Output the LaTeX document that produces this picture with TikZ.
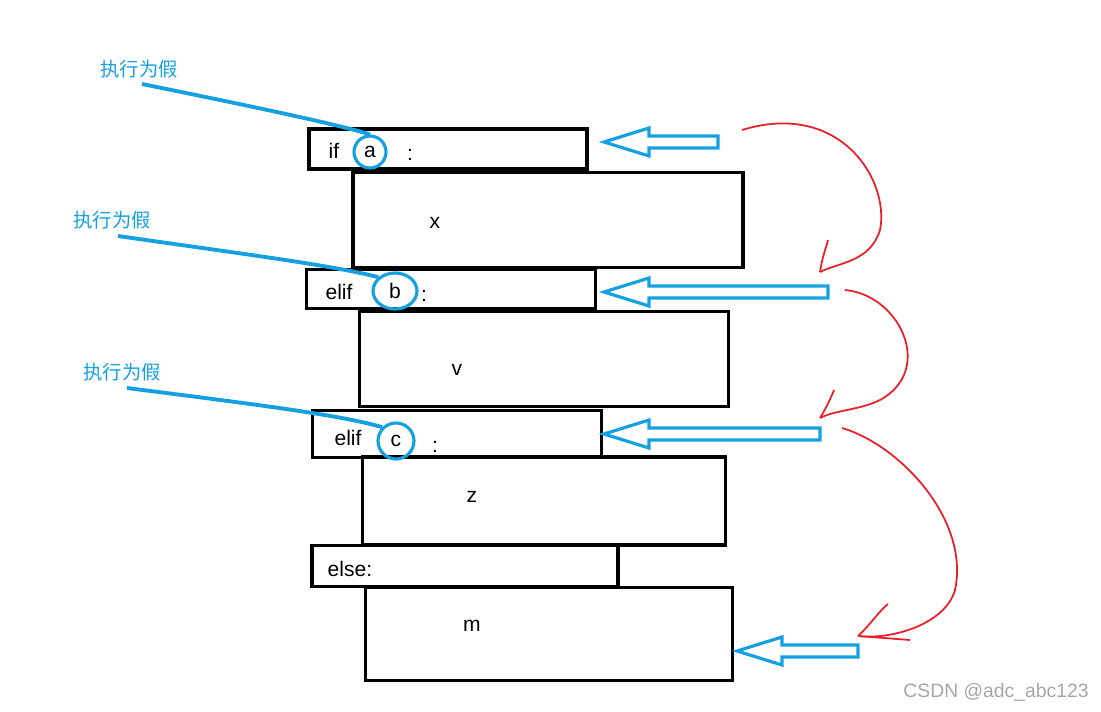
\documentclass[tikz,border=0pt]{standalone}
\usepackage{fontspec}
\setmainfont{Liberation Sans}
\newfontfamily\cjk{Noto Sans CJK SC}
\definecolor{pblue}{RGB}{20,160,225}
\definecolor{pred}{RGB}{235,30,40}
\tikzset{
	blk/.style={draw=black,line width=2.2pt,inner sep=0pt},
	txt/.style={font=\fontsize{12}{14}\selectfont,inner sep=0pt},
	tag/.style={text=pblue,font=\cjk\fontsize{11}{13}\selectfont,inner sep=1pt},
	ring/.style={draw=pblue,line width=1.8pt,ellipse,inner sep=0pt},
	hollow/.style={draw=pblue,line width=1.8pt,line join=miter},
	hand/.style={draw=pred,line width=1pt},
	point/.style={draw=pblue,line width=2.2pt}
}
\usetikzlibrary{shapes.geometric}
\newcommand{\hollowarrow}[3]{% tail x, tip x, y
	\draw[hollow] (#2,#3) -- (#2+45,#3-14) -- (#2+45,#3-6) -- (#1,#3-6) -- (#1,#3+6) -- (#2+45,#3+6) -- (#2+45,#3+14) -- cycle;}
\begin{document}
\begin{tikzpicture}[x=0.02cm,y=-0.02cm]
			\useasboundingbox (0,0) rectangle (1101,712);
			% boxes
			\node[blk,minimum width=278*0.02cm,minimum height=40*0.02cm] (if) at (448,149) {};
			\node[blk,minimum width=390*0.02cm,minimum height=95*0.02cm] (bx) at (548,220) {};
			\node[blk,minimum width=289*0.02cm,minimum height=39*0.02cm] (elb) at (451,289) {};
			\node[blk,minimum width=369*0.02cm,minimum height=95*0.02cm] (bv) at (544,359) {};
			\node[blk,minimum width=289*0.02cm,minimum height=47*0.02cm] (elc) at (457,434) {};
			\node[blk,minimum width=363*0.02cm,minimum height=88*0.02cm] (bz) at (544,501) {};
			\node[blk,minimum width=306*0.02cm,minimum height=41*0.02cm] (els) at (465,566) {};
			\node[blk,minimum width=367*0.02cm,minimum height=93*0.02cm] (bm) at (549,634) {};
			% texts
			\node[txt] (tif) at (334,151) {if};
			\node[txt] (ca) at (410,155) {:};
			\node[txt] (tx) at (435,223) {x};
			\node[txt] (te1) at (339,292) {elif};
			\node[txt] (cb) at (424,296) {:};
			\node[txt] (tv) at (457,370) {v};
			\node[txt] (te2) at (348,438) {elif};
			\node[txt] (cc) at (435,447) {:};
			\node[txt] (tz) at (472,497) {z};
			\node[txt] (tel) at (350,569) {else:};
			\node[txt] (tm) at (472,626) {m};
			% circled conditions
			\node[txt,ring,minimum width=32*0.02cm,minimum height=32*0.02cm] (a) at (370,152) {a};
			\node[txt,ring,minimum width=44*0.02cm,minimum height=36*0.02cm] (b) at (395,291) {b};
			\node[txt,ring,minimum width=36*0.02cm,minimum height=36*0.02cm] (c) at (396,441) {c};
			% notes
			\node[tag] (n1) at (139,69) {执行为假};
			\node[tag] (n2) at (112,220) {执行为假};
			\node[tag] (n3) at (122,372) {执行为假};
			\coordinate (s1) at (142,84);
			\coordinate (s2) at (118,236);
			\coordinate (s3) at (127,388);
			\draw[point] (s1) .. controls (260,108) and (340,125) .. (a.north);
			\draw[point] (s2) .. controls (250,255) and (330,265) .. (b.north west);
			\draw[point] (s3) .. controls (260,405) and (340,415) .. (c.north west);
			% arrows
			\hollowarrow{718}{604}{142}
			\hollowarrow{828}{604}{292}
			\hollowarrow{820}{604}{434}
			\hollowarrow{858}{737}{651}
			% red jumps
			\coordinate (r1) at (742,130);
			\coordinate (r2) at (820,272);
			\coordinate (r3) at (845,290);
			\coordinate (r4) at (820,418);
			\coordinate (r5) at (842,428);
			\coordinate (r6) at (858,636);
			\draw[hand] (r1) .. controls (840,100) and (890,180) .. (880,230) .. controls (870,262) and (840,262) .. (r2);
			\draw[hand] (r2) .. controls (822,258) and (826,248) .. (828,240);
			\draw[hand] (r3) .. controls (900,295) and (935,370) .. (880,400) .. controls (860,410) and (835,410) .. (r4);
			\draw[hand] (r4) .. controls (825,410) and (830,400) .. (834,390);
			\draw[hand] (r5) .. controls (900,445) and (970,520) .. (955,590) .. controls (945,625) and (890,640) .. (r6);
			\draw[hand] (r6) .. controls (870,625) and (880,610) .. (888,604);
			\draw[hand] (r6) -- (910,640);
			\node[text=gray!70,font=\fontsize{11}{13}\selectfont] (wm) at (996,692) {CSDN @adc\_abc123};
		\end{tikzpicture}
\end{document}
